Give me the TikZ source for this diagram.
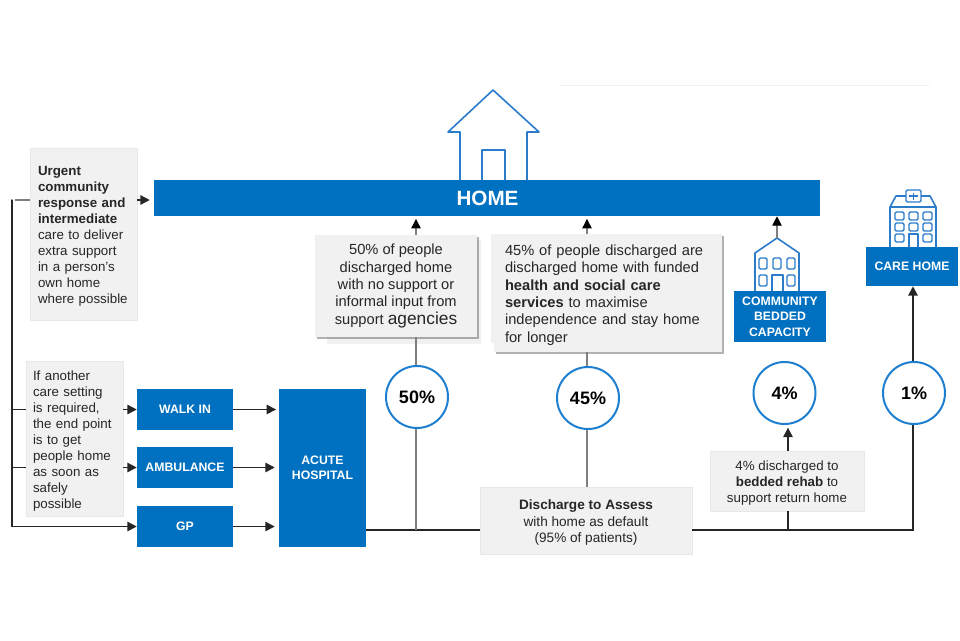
\documentclass[tikz,border=0pt]{standalone}
\usepackage{fontspec}
\setmainfont{Liberation Sans}
\usetikzlibrary{arrows.meta,shadows}
\definecolor{nhsblue}{HTML}{0070C0}
\definecolor{ringblue}{HTML}{1E7FD0}
\definecolor{iconblue}{HTML}{2A7CCB}
\definecolor{panel}{HTML}{F1F1F1}
\definecolor{panelline}{HTML}{E8E8E8}
\definecolor{linedark}{HTML}{262626}
\definecolor{linegrey}{HTML}{7F7F7F}
\tikzset{
  x=0.75pt,y=-0.75pt,
  bluebox/.style={fill=nhsblue,text=white,font=\fontsize{9.2}{11.5}\selectfont\bfseries,align=center,inner sep=0pt},
  panelbox/.style={fill=panel,draw=panelline,line width=.5pt,text=black!85,font=\fontsize{10}{12}\selectfont,inner sep=0pt},
  shadowbox/.style={panelbox,draw=none,drop shadow={shadow xshift=1.5pt,shadow yshift=-1.5pt,fill=black,opacity=.3},font=\fontsize{11}{13}\selectfont},
  ring/.style={circle,draw=ringblue,line width=1.5pt,fill=white,minimum size=46.5pt,inner sep=0pt,font=\fontsize{13.5}{16}\selectfont\bfseries},
  flow/.style={draw=linedark,line width=1.1pt},
  flowarrow/.style={flow,-{Triangle[length=7pt,width=7pt]}},
  bus/.style={draw=linedark,line width=.9pt},
  thin flow/.style={draw=linegrey,line width=.8pt},
  thin arrow/.style={draw=linegrey,line width=.8pt,-{Triangle[length=7pt,width=7pt,color=black]}},
  icon/.style={draw=iconblue,line width=1.2pt,line join=round,fill=white},
  iconround/.style={icon,rounded corners=1pt},
}
% name, x1, y1, x2, y2 (pixels), style, text
\newcommand{\pxnode}[7]{%
  \pgfmathsetmacro{\pxw}{(#4-#2)*0.75}%
  \pgfmathsetmacro{\pxh}{(#5-#3)*0.75}%
  \node[#6,minimum width=\pxw pt,minimum height=\pxh pt,anchor=center] (#1) at ({(#2+#4)/2},{(#3+#5)/2}) {#7};%
}
% taller first line: moves the block of text about 2px down inside its box
\newcommand{\lowertext}{\rule{0pt}{10.5pt}}
\begin{document}
\begin{tikzpicture}
\useasboundingbox (0,0) rectangle (960,640);
\fill[white] (0,0) rectangle (960,640);
\draw[black!5,line width=.5pt] (560,85) -- (930,85);

% back plates behind the two shadowed boxes
\fill[panel] (327,240) rectangle (481,344);
\fill[panel] (491,234) rectangle (714,343);

% house icon
\draw[icon] (460,180) -- (460,132) -- (448,132) -- (493,90) -- (539,132) -- (527,132) -- (527,180);
\draw[icon,fill=none] (482,180) -- (482,150) -- (505,150) -- (505,180);

% community icon
\draw[icon] (755,291) -- (755,253) -- (777,238) -- (799,253) -- (799,291);
\foreach \wx in {759,773,787}{\draw[iconround,line width=1pt] (\wx,258) rectangle ++(8,11);}
\draw[iconround,line width=1pt] (759,275) rectangle ++(8,11);
\draw[iconround,line width=1pt] (787,275) rectangle ++(8,11);
\draw[icon,line width=1pt] (772,291) -- (772,275) -- (783,275) -- (783,291);

% care home icon
\draw[icon] (890,247) -- (890,207) -- (896,196) -- (930,196) -- (936,207) -- (936,247);
\draw[icon,line width=.8pt] (890,207) -- (936,207);
\draw[iconround,line width=1pt] (906,190) rectangle (921,202);
\draw[iconblue,line width=.9pt] (909,196) -- (918,196) (913.5,192.5) -- (913.5,199.5);
\foreach \wx in {895,909,923}{
  \foreach \wy in {212,223}{\draw[iconround,line width=1pt] (\wx,\wy) rectangle ++(9,8);}
}
\draw[iconround,line width=1pt] (895,234) rectangle ++(9,8);
\draw[iconround,line width=1pt] (923,234) rectangle ++(9,8);
\draw[icon,line width=1pt] (909,247) -- (909,234) -- (918,234) -- (918,247);

% blue nodes
\pxnode{home}{154}{180}{820}{216}{bluebox,font=\fontsize{15.5}{18}\selectfont\bfseries}{\hspace*{1pt}}
\node[text=white,font=\fontsize{15.5}{18}\selectfont\bfseries,inner sep=0pt] (hometext) at (487.5,198.5) {HOME};
\pxnode{walk}{137}{389}{233}{430}{bluebox}{WALK IN}
\pxnode{amb}{137}{447}{233}{488}{bluebox}{AMBULANCE}
\pxnode{gp}{137}{506}{233}{547}{bluebox}{GP}
\pxnode{acute}{279}{389}{366}{547}{bluebox}{ACUTE\\HOSPITAL}
\pxnode{comm}{734}{291}{826}{342}{bluebox}{COMMUNITY\\BEDDED\\CAPACITY}
\pxnode{care}{866}{247}{958}{286}{bluebox}{CARE HOME}

% panels
\pxnode{urgent}{30}{148}{137}{320}{panelbox,align=left,inner xsep=6pt,text width=68.25pt}{\lowertext\textbf{Urgent}\\\textbf{community}\\\textbf{response and}\\\textbf{intermediate}\\care to deliver\\extra support\\in a person's\\own home\\where possible}
\pxnode{other}{26}{361}{123}{516}{panelbox,align=left,inner xsep=5.25pt,text width=62.25pt}{\lowertext If another\\care setting\\is required,\\the end point\\is to get\\people home\\as soon as\\safely\\possible}
\pxnode{fifty}{315}{235}{477}{337}{shadowbox,align=center}{50\% of people\\discharged home\\with no support or\\informal input from\\support {\fontsize{13}{13}\selectfont agencies}}
\pxnode{fortyfive}{494}{234}{722}{352}{shadowbox,align=left,inner xsep=8.25pt,text width=154.5pt}{\rule{0pt}{11pt}45\% of people discharged are\\discharged home with funded\\\textbf{health and social care}\\\textbf{services} to maximise\\independence and stay home\\for longer}
\pxnode{assess}{480}{487}{692}{554}{panelbox,align=center,font=\fontsize{10.2}{12.2}\selectfont}{\lowertext\textbf{Discharge to Assess}\\with home as default\\(95\% of patients)}
\pxnode{rehab}{710}{451}{864}{511}{panelbox,align=center}{\lowertext 4\% discharged to\\\textbf{bedded rehab} to\\support return home}

% rings
\node[ring] (r50) at (417,397) {50\%};
\node[ring] (r45) at (588,398) {45\%};
\node[ring] (r4) at (784.5,393) {4\%};
\node[ring] (r1) at (914,393) {1\%};

% helper coordinates
\coordinate (ttop) at (12,200);
\coordinate (tw) at (12,409.5);
\coordinate (ta) at (12,467.5);
\coordinate (tg) at (12,526.5);
\coordinate (bus50) at (416,530);
\coordinate (bus4) at (788,530);
\coordinate (busend) at (913,530);

% trunk on the left
\draw[flow,line cap=round,line join=round] (ttop) -- (tg);
\draw[thin flow] (15,200) -- (urgent.west |- ttop);
\draw[flowarrow,shorten >=3pt] (urgent.east |- ttop) -- (home.west |- ttop);
\draw[flow] (tw) -- (other.west |- tw);
\draw[flow] (ta) -- (other.west |- ta);
\draw[flowarrow] (other.east |- tw) -- (walk.west);
\draw[flowarrow] (other.east |- ta) -- (amb.west);
\draw[flowarrow] (tg) -- (gp.west);
\draw[flowarrow,shorten >=2pt] (walk.east) -- (acute.west |- walk.east);
\draw[flowarrow,shorten >=3pt] (amb.east) -- (acute.west |- amb.east);
\draw[flowarrow,shorten >=3pt] (gp.east) -- (acute.west |- gp.east);

% discharge bus
\draw[bus] (acute.east |- bus50) -- (assess.west |- bus50);
\draw[bus] (assess.east |- bus50) -- (bus4);
\draw[flow,line width=1.3pt,line join=miter] (bus4) -- (busend) -- (r1.south -| busend);
\draw[thin flow] (bus50) -- (bus50 |- r50.south);
\draw[thin flow] (bus50 |- r50.north) -- (bus50 |- fifty.south);
\draw[thin arrow,shorten >=2pt] (bus50 |- fifty.north) -- (bus50 |- home.south);
\coordinate (x45) at (587,0);
\draw[thin flow] (x45 |- assess.north) -- (x45 |- r45.south);
\draw[thin flow] (x45 |- r45.north) -- (x45 |- fortyfive.south);
\draw[thin arrow,shorten >=2pt] (x45 |- fortyfive.north) -- (x45 |- home.south);
\draw[flow] (bus4) -- (bus4 |- rehab.south);
\draw[flowarrow,shorten >=2pt] (bus4 |- rehab.north) -- (bus4 |- r4.south);
\coordinate (xc) at (777,238);
\draw[thin arrow] (xc) -- (xc |- home.south);
\draw[flowarrow,line width=1.3pt] (busend |- r1.north) -- (busend |- care.south);
\end{tikzpicture}
\end{document}
